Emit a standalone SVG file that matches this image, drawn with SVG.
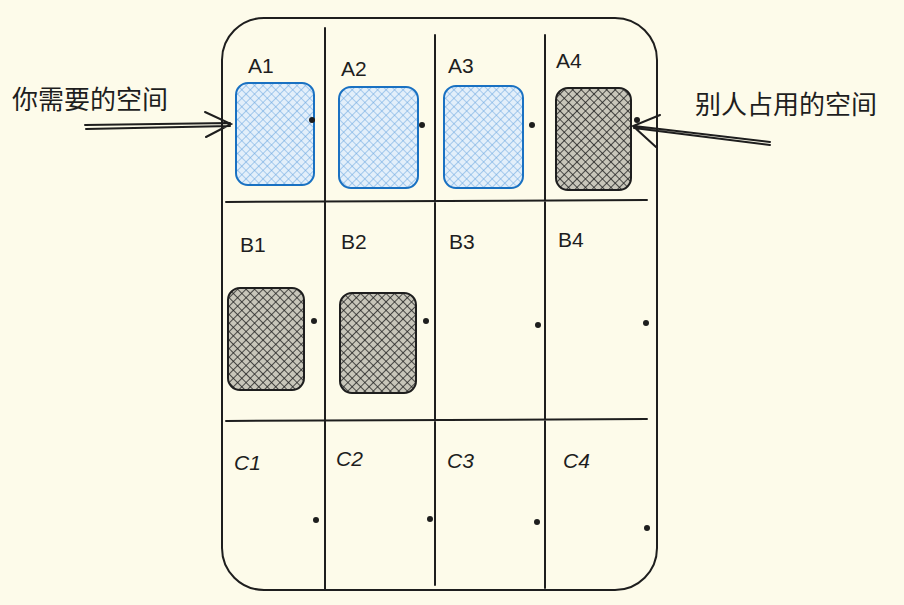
<svg xmlns="http://www.w3.org/2000/svg" width="904" height="605" viewBox="0 0 904 605">
<defs>
<pattern id="hb" width="6" height="6" patternUnits="userSpaceOnUse" patternTransform="rotate(45)">
<rect width="6" height="6" fill="#e3effa"/>
<path d="M0 0V6M0 0H6" stroke="#6aa6e0" stroke-width="1.1"/>
</pattern>
<pattern id="hd" width="6" height="6" patternUnits="userSpaceOnUse" patternTransform="rotate(45)">
<rect width="6" height="6" fill="#c8c6ba"/>
<path d="M0 0V6M0 0H6" stroke="#1e1e1e" stroke-width="1.5"/>
</pattern>
</defs>
<style>
.ln{stroke:#1e1e1e;stroke-width:2;fill:none;stroke-linecap:round}
.lb{font-family:"Liberation Sans",sans-serif;font-size:21px;fill:#1e1e1e}
.cn{font-family:"Noto Sans CJK SC",sans-serif;font-size:26px;fill:#1e1e1e}
.bl{fill:url(#hb);stroke:#1971c2;stroke-width:2}
.dk{fill:url(#hd);stroke:#1e1e1e;stroke-width:2}
.dt{fill:#1e1e1e}
</style>
<rect width="904" height="605" fill="#fdfbea"/>
<g id="frame">
<rect class="ln" x="222" y="18" width="435" height="572" rx="42"/>
<path class="ln" d="M325 28V590M435 35V585M545 35V588M226 202L647 200M226 421L647 419"/>
</g>
<g id="labels">
<text class="lb" x="248" y="73">A1</text><text class="lb" x="341" y="76">A2</text><text class="lb" x="448" y="73">A3</text><text class="lb" x="556" y="68">A4</text>
<text class="lb" x="240" y="252">B1</text><text class="lb" x="341" y="249">B2</text><text class="lb" x="449" y="249">B3</text><text class="lb" x="558" y="247">B4</text>
<text class="lb" x="234" y="470" font-style="italic">C1</text><text class="lb" x="336" y="466" font-style="italic">C2</text><text class="lb" x="447" y="468" font-style="italic">C3</text><text class="lb" x="563" y="468" font-style="italic">C4</text>
</g>
<g id="boxes">
<rect class="bl" x="236" y="83" width="78" height="102" rx="12"/>
<rect class="bl" x="339" y="87" width="79" height="101" rx="12"/>
<rect class="bl" x="444" y="86" width="79" height="102" rx="12"/>
<rect class="dk" x="556" y="88" width="75" height="102" rx="12"/>
<rect class="dk" x="228" y="288" width="76" height="102" rx="12"/>
<rect class="dk" x="340" y="293" width="76" height="100" rx="12"/>
</g>
<g id="dots">
<circle class="dt" cx="312" cy="120" r="3"/><circle class="dt" cx="422" cy="125" r="3"/><circle class="dt" cx="532" cy="125" r="3"/><circle class="dt" cx="637" cy="120" r="3"/>
<circle class="dt" cx="314" cy="321" r="3"/><circle class="dt" cx="426" cy="321" r="3"/><circle class="dt" cx="538" cy="325" r="3"/><circle class="dt" cx="646" cy="323" r="3"/>
<circle class="dt" cx="316" cy="520" r="3"/><circle class="dt" cx="430" cy="519" r="3"/><circle class="dt" cx="537" cy="522" r="3"/><circle class="dt" cx="647" cy="528" r="3"/>
</g>
<g id="connectors">
<path class="ln" d="M85 125L230 123M86 129L230 126M205 112L231 124L206 137"/>
<path class="ln" d="M770 142L634 126M770 145L634 128M660 115L633 126L656 147"/>
</g>
<g id="notes">
<text class="cn" x="12" y="109">你需要的空间</text>
<text class="cn" x="695" y="114">别人占用的空间</text>
</g>
</svg>
